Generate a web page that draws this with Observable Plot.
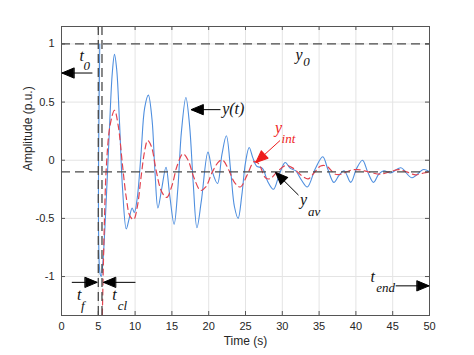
<!DOCTYPE html>
<html>
<head>
<meta charset="utf-8">
<script src="https://cdn.jsdelivr.net/npm/d3@7"></script>
<script src="https://cdn.jsdelivr.net/npm/@observablehq/plot@0.6"></script>
<style>
  html, body { margin: 0; padding: 0; background: #fff; }
  #chart { width: 474px; height: 355px; }
  svg { font-family: "Liberation Sans", Arial, sans-serif; }
</style>
</head>
<body>
<div id="chart"></div>
<script>
// ---- data ----
const xTicks = [0, 5, 10, 15, 20, 25, 30, 35, 40, 45, 50];
const xTickLabels = ["0", "5", "10", "15", "20", "25", "30", "35", "40", "45", "50"];
const yTicks = [-1, -0.5, 0, 0.5, 1];
const yTickLabels = ["-1", "-0.5", "0", "0.5", "1"];

// y(t) – blue solid
const blueT = [5.2, 5.25, 5.4, 5.6, 6.0, 6.5, 6.9, 7.2, 7.5, 7.9, 8.3, 8.8, 9.2, 9.6, 9.9, 10.3, 10.8, 11.3, 11.8, 12.3, 12.7, 13.1, 13.6, 14.2, 14.7, 15.3, 15.8, 16.3, 16.9, 17.4, 17.9, 18.4, 19.0, 19.9, 20.5, 21.2, 21.8, 22.4, 23.0, 23.5, 24.0, 24.5, 25.0, 25.5, 26.0, 26.5, 27.3, 28.0, 28.8, 29.6, 30.4, 31.1, 31.8, 32.6, 33.4, 34.5, 35.5, 36.2, 37.0, 37.7, 38.4, 39.3, 40.1, 40.9, 41.6, 42.4, 43.1, 43.8, 44.7, 46.1, 47.6, 49.2, 50.0];
const blueV = [1.0, -0.98, -1.0, -0.9, -0.45, 0.25, 0.75, 0.91, 0.78, 0.3, -0.25, -0.59, -0.5, -0.41, -0.45, -0.32, 0.05, 0.45, 0.56, 0.35, -0.1, -0.41, -0.25, -0.06, -0.3, -0.55, -0.25, 0.25, 0.54, 0.3, -0.2, -0.58, -0.35, 0.07, -0.1, -0.2, 0.05, 0.21, -0.1, -0.4, -0.5, -0.3, -0.02, 0.11, 0.02, -0.05, -0.07, -0.18, -0.25, -0.12, -0.02, -0.07, -0.09, -0.17, -0.23, -0.07, 0.03, -0.08, -0.19, -0.13, -0.09, -0.19, -0.07, 0.0, -0.1, -0.19, -0.12, -0.09, -0.11, -0.065, -0.15, -0.08, -0.1];

// y_int – red dashed
const redT = [5.55, 5.8, 6.1, 6.6, 7.2, 7.7, 8.3, 8.8, 9.3, 9.8, 10.3, 10.8, 11.3, 11.7, 12.2, 12.9, 13.6, 14.3, 15.0, 15.7, 16.5, 17.2, 18.0, 18.9, 19.6, 20.5, 21.4, 21.9, 22.7, 23.5, 24.3, 25.2, 26.2, 26.8, 27.7, 28.3, 29.3, 30.5, 31.5, 32.6, 33.5, 34.3, 35.2, 36.0, 37.2, 38.0, 39.1, 40.2, 41.7, 43.3, 44.6, 45.8, 46.9, 48.1, 49.2, 50.0];
const redV = [-1.33, -0.6, -0.05, 0.3, 0.43, 0.3, -0.05, -0.32, -0.48, -0.51, -0.4, -0.15, 0.08, 0.17, 0.12, -0.1, -0.27, -0.32, -0.22, -0.05, 0.055, 0.0, -0.15, -0.26, -0.23, -0.1, -0.01, 0.0, -0.08, -0.19, -0.23, -0.13, -0.01, -0.03, -0.15, -0.16, -0.1, -0.045, -0.07, -0.13, -0.16, -0.11, -0.05, -0.05, -0.12, -0.12, -0.09, -0.08, -0.1, -0.12, -0.1, -0.08, -0.1, -0.125, -0.11, -0.1];

const eventTimes = [5, 5.5];     // t_f, t_cl
const refLevels = [1, -0.1];     // y_0, y_av

// annotation labels (main letter + subscript)
const mainLabels = [
  {x: 2.45, y: 0.895, text: "t", color: "#111"},
  {x: 31.8, y: 0.91, text: "y", color: "#111"},
  {x: 21.83, y: 0.445, text: "y(t)", color: "#111"},
  {x: 29.0, y: 0.275, text: "y", color: "#ee1c1c"},
  {x: 32.4, y: -0.337, text: "y", color: "#111"},
  {x: 2.1, y: -1.16, text: "t", color: "#111"},
  {x: 6.89, y: -1.16, text: "t", color: "#111"},
  {x: 41.98, y: -1.005, text: "t", color: "#111"}
];
const subLabels = [
  {x: 3.0, y: 0.81, text: "0", color: "#111"},
  {x: 32.85, y: 0.85, text: "0", color: "#111"},
  {x: 29.9, y: 0.18, text: "int", color: "#ee1c1c"},
  {x: 33.5, y: -0.44, text: "av", color: "#111"},
  {x: 2.65, y: -1.25, text: "f", color: "#111"},
  {x: 7.65, y: -1.25, text: "cl", color: "#111"},
  {x: 42.75, y: -1.10, text: "end", color: "#111"}
];
// arrows: tail (x1,y1) -> tip (x2,y2)
const arrows = [
  {x1: 4.2, y1: 0.75, x2: 0.05, y2: 0.75, color: "#000"},
  {x1: 21.6, y1: 0.435, x2: 17.6, y2: 0.435, color: "#000"},
  {x1: 29.7, y1: 0.17, x2: 26.4, y2: -0.02, color: "#ee1c1c"},
  {x1: 32.2, y1: -0.30, x2: 29.1, y2: -0.105, color: "#000"},
  {x1: 1.4, y1: -1.05, x2: 4.85, y2: -1.05, color: "#000"},
  {x1: 10.05, y1: -1.05, x2: 5.7, y2: -1.05, color: "#000"},
  {x1: 45.4, y1: -1.08, x2: 49.95, y2: -1.08, color: "#000"}
];

// ---- layout ----
const W = 474, H = 355, mL = 61, mR = 45, mT = 26, mB = 40;
const xDom = [0, 50], yDom = [-1.335, 1.15];
const fw = W - mL - mR, fh = H - mT - mB;
const px = (t) => mL + (t - xDom[0]) / (xDom[1] - xDom[0]) * fw;
const py = (v) => mT + (yDom[1] - v) / (yDom[1] - yDom[0]) * fh;
const angle = (d) => Math.atan2(px(d.x2) - px(d.x1), -(py(d.y2) - py(d.y1))) * 180 / Math.PI;

const blue = blueT.map((t, i) => ({t, v: blueV[i]}));
const red = redT.map((t, i) => ({t, v: redV[i]}));

const tri = {
  draw(context, l, r) {
    context.moveTo(-r, 0);
    context.lineTo(0, -l);
    context.lineTo(r, 0);
    context.closePath();
  }
};

const serif = '"Liberation Serif", "Times New Roman", serif';
const sans = '"Liberation Sans", Arial, sans-serif';

const chart = Plot.plot({
  width: W, height: H,
  marginLeft: mL, marginRight: mR, marginTop: mT, marginBottom: mB,
  x: {domain: xDom, axis: null},
  y: {domain: yDom, axis: null},
  color: {type: "identity"},
  style: {background: "#fff", fontFamily: sans},
  marks: [
    // grid
    Plot.ruleX(xTicks, {x: d => d, stroke: "#e4e4e4", strokeWidth: 1}),
    Plot.ruleY(yTicks, {y: d => d, stroke: "#e4e4e4", strokeWidth: 1}),
    // inward tick marks on all four sides
    Plot.ruleX(xTicks, {x: d => d, insetTop: fh - 4, stroke: "#555"}),
    Plot.ruleX(xTicks, {x: d => d, insetBottom: fh - 4, stroke: "#555"}),
    Plot.ruleY(yTicks, {y: d => d, insetRight: fw - 4, stroke: "#555"}),
    Plot.ruleY(yTicks, {y: d => d, insetLeft: fw - 4, stroke: "#555"}),
    // signals
    Plot.line(blue, {x: "t", y: "v", stroke: "#4f8fdf", strokeWidth: 1.1, curve: "catmull-rom", clip: true}),
    Plot.line(red, {x: "t", y: "v", stroke: "#e2434f", strokeWidth: 1.2, strokeDasharray: "6,4", curve: "catmull-rom", clip: true}),
    // reference dashed lines
    Plot.ruleY(refLevels, {y: d => d, stroke: "#4a4a4a", strokeWidth: 1.3, strokeDasharray: "9,5"}),
    Plot.ruleX(eventTimes, {x: d => d, stroke: "#4a4a4a", strokeWidth: 1.3, strokeDasharray: "9,5"}),
    Plot.frame({stroke: "#555", strokeWidth: 1}),
    // tick labels
    Plot.text(xTicks, {x: d => d, frameAnchor: "bottom", dy: 14, text: (d, i) => xTickLabels[i], fontSize: 11, fill: "#262626"}),
    Plot.text(yTicks, {y: d => d, frameAnchor: "left", dx: -7, textAnchor: "end", text: (d, i) => yTickLabels[i], fontSize: 11, fill: "#262626"}),
    // axis titles
    Plot.text(["Time (s)"], {frameAnchor: "bottom", dy: 29, text: d => d, fontSize: 12, fill: "#262626"}),
    Plot.text(["Amplitude (p.u.)"], {frameAnchor: "left", dx: -33, rotate: -90, text: d => d, fontSize: 12, fill: "#262626"}),
    // annotations
    Plot.link(arrows, {x1: "x1", y1: "y1", x2: "x2", y2: "y2", stroke: "color", strokeWidth: 1}),
    Plot.vector(arrows, {x: "x2", y: "y2", rotate: angle, length: 12, r: 5, shape: tri, anchor: "end", fill: "color", stroke: "color", strokeWidth: 1}),
    Plot.text(mainLabels, {x: "x", y: "y", text: "text", fill: "color", textAnchor: "start", fontSize: 16, fontStyle: "italic", fontFamily: serif}),
    Plot.text(subLabels, {x: "x", y: "y", text: "text", fill: "color", textAnchor: "start", fontSize: 13, fontStyle: "italic", fontFamily: serif})
  ]
});
document.getElementById("chart").appendChild(chart);
</script>
</body>
</html>
